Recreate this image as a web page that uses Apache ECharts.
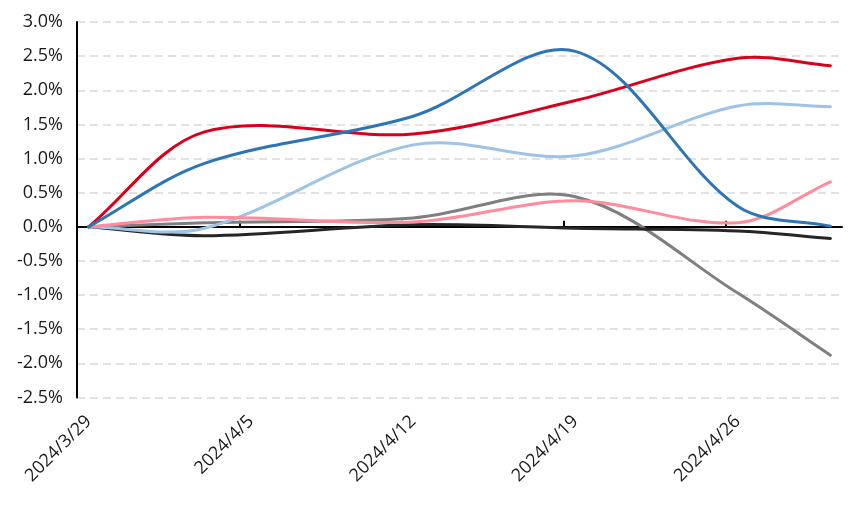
<!DOCTYPE html>
<html>
<head>
<meta charset="utf-8">
<script src="https://cdn.jsdelivr.net/npm/echarts@6/dist/echarts.min.js"></script>
<style>html,body{margin:0;padding:0;background:#fff}#c{width:863px;height:511px}</style>
</head>
<body>
<div id="c"></div>
<script>
const dates = ['2024/3/29','2024/4/3','2024/4/12','2024/4/19','2024/4/26','2024/4/30'];
const tickLabels = ['2024/3/29','2024/4/5','2024/4/12','2024/4/19','2024/4/26'];
const seriesRed = [0, 1.39, 1.36, 1.85, 2.47, 2.36];
const seriesBlue = [0, 0.93, 1.62, 2.57, 0.30, 0.01];
const seriesLightBlue = [0, -0.02, 1.20, 1.04, 1.77, 1.76];
const seriesPink = [0, 0.14, 0.07, 0.38, 0.06, 0.66];
const seriesGray = [0, 0.06, 0.13, 0.44, -0.97, -1.88];
const seriesBlack = [0, -0.13, 0.03, -0.02, -0.06, -0.17];
const yRange = [-2.5, 3.0];

function dayOf(s) {
  const p = s.split('/').map(Number);
  return Date.UTC(p[0], p[1] - 1, p[2]) / 86400000;
}
const base = dayOf(dates[0]);
// Excel-style date axis: each date sits in the middle of its day slot
const xs = dates.map(d => dayOf(d) - base + 0.5);
const labelPos = tickLabels.map(d => dayOf(d) - base + 0.5);
const tickPos = tickLabels.slice(1).map(d => dayOf(d) - base);
const labelMap = {};
tickLabels.forEach((t, i) => { labelMap[labelPos[i].toFixed(1)] = t; });

function mk(vals) { return vals.map((v, i) => [xs[i], v]); }
const font = '"Open Sans", "Noto Sans", sans-serif';

const defs = [
  ['gray', seriesGray, '#7f7f7f'],
  ['black', seriesBlack, '#262626'],
  ['lightblue', seriesLightBlue, '#9dc3e6'],
  ['pink', seriesPink, '#ff8b9c'],
  ['red', seriesRed, '#d9001b'],
  ['blue', seriesBlue, '#2e75b6']
];

function dist(a, b) { return Math.hypot(a[0] - b[0], a[1] - b[1]); }
// tangent arms at p1 along (p2 - p0), weighted by adjacent segment lengths
function arms(p0, p1, p2) {
  const d0 = dist(p0, p1), d1 = dist(p1, p2);
  const s = d0 + d1;
  if (s === 0) return [[0, 0], [0, 0]];
  const vx = p2[0] - p0[0], vy = p2[1] - p0[1];
  const kin = d0 / s / 3, kout = d1 / s / 3;
  return [[vx * kin, vy * kin], [vx * kout, vy * kout]];
}

// smoothed line (Bezier) through points mapped by the axes
function smoothRender(vals, color) {
  return function (params, api) {
    if (params.dataIndex !== 0) return null;
    const pts = vals.map((v, i) => api.coord([xs[i], v]));
    let d = 'M' + pts[0][0] + ' ' + pts[0][1];
    for (let i = 0; i < pts.length - 1; i++) {
      const p0 = pts[i - 1] || pts[i];
      const p1 = pts[i];
      const p2 = pts[i + 1];
      const p3 = pts[i + 2] || pts[i + 1];
      const a1 = arms(p0, p1, p2)[1];
      const a2 = arms(p1, p2, p3)[0];
      d += ' C' + (p1[0] + a1[0]) + ' ' + (p1[1] + a1[1]) + ' ' +
           (p2[0] - a2[0]) + ' ' + (p2[1] - a2[1]) + ' ' + p2[0] + ' ' + p2[1];
    }
    return {
      type: 'path',
      shape: {pathData: d},
      style: {stroke: color, lineWidth: 3, fill: 'none', lineJoin: 'round', lineCap: 'round'}
    };
  };
}

const chart = echarts.init(document.getElementById('c'), null, {renderer: 'canvas'});
chart.setOption({
  animation: false,
  grid: {left: 77, right: 21, top: 22, bottom: 113.5},
  xAxis: [
    {
      type: 'value', min: 0, max: 33, position: 'bottom',
      axisLine: {show: false, onZero: false},
      axisTick: {show: false},
      splitLine: {show: false},
      axisLabel: {
        customValues: labelPos, rotate: 45, margin: 21,
        fontSize: 18, fontFamily: font, color: '#1a1a1a',
        formatter: v => labelMap[v.toFixed(1)] || ''
      }
    },
    {
      type: 'value', min: 0, max: 33, position: 'bottom',
      axisLine: {show: true, onZero: true, lineStyle: {color: '#000', width: 2}},
      axisTick: {show: true, inside: true, length: 6, customValues: tickPos, lineStyle: {color: '#000', width: 2}},
      axisLabel: {show: false},
      splitLine: {show: false}
    }
  ],
  yAxis: {
    type: 'value', min: yRange[0], max: yRange[1], interval: 0.5,
    axisLine: {show: true, onZero: false, lineStyle: {color: '#000', width: 2}},
    axisTick: {show: false},
    axisLabel: {
      fontSize: 18, fontFamily: font, color: '#1a1a1a', margin: 14,
      formatter: v => v.toFixed(1) + '%'
    },
    splitLine: {show: true, lineStyle: {color: '#d9d9d9', type: [8, 5], width: 1.5}}
  },
  series: defs.map(d => ({
    name: d[0], type: 'custom', xAxisIndex: 0, data: mk(d[1]),
    encode: {x: 0, y: 1}, silent: true, clip: false,
    renderItem: smoothRender(d[1], d[2])
  }))
});
</script>
</body>
</html>
